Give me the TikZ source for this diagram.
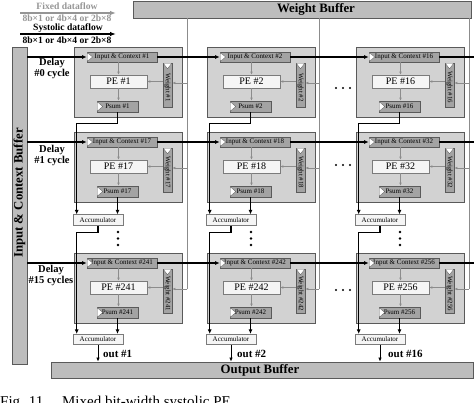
\documentclass[tikz,border=0pt]{standalone}
\usepackage{fontspec}
\setmainfont{Liberation Serif}
\usetikzlibrary{arrows.meta,calc}
\definecolor{blkfill}{HTML}{D2D2D2}
\definecolor{buffill}{HTML}{BDBDBD}
\definecolor{darkfill}{HTML}{A3A3A3}
\definecolor{pefill}{HTML}{F5F5F5}
\definecolor{edge}{HTML}{5A5A5A}
\definecolor{garrow}{HTML}{8C8C8C}
\definecolor{legendgray}{HTML}{959595}
\begin{document}
\begin{tikzpicture}[x=1pt,y=-1pt,
  buffer/.style={draw=edge, fill=buffill, line width=0.8pt, inner sep=0pt},
  block/.style={draw=edge, fill=blkfill, line width=0.8pt, inner sep=0pt, minimum width=108pt, minimum height=70pt},
  reg/.style={draw=edge, fill=darkfill, line width=0.6pt, inner sep=0pt, font=\fontsize{7}{7}\selectfont},
  pebox/.style={draw=edge!80, fill=pefill, line width=0.6pt, inner sep=0pt, minimum width=57pt, minimum height=13pt, font=\fontsize{10}{10}\selectfont},
  accbox/.style={draw=edge!80, fill=pefill, line width=0.6pt, inner sep=0pt, minimum width=50pt, minimum height=10.5pt, font=\fontsize{7}{7}\selectfont},
  garr/.style={draw=garrow, line width=0.6pt, -{Latex[length=3pt,width=2.6pt]}},
  gline/.style={draw=garrow, line width=0.8pt},
  barr/.style={draw=black, line width=1.1pt, -{Latex[length=4.5pt,width=4pt]}},
  oarr/.style={draw=black, line width=0.8pt, -{Latex[length=4pt,width=3.5pt]}},
  bline/.style={draw=black, line width=1.1pt},
  lbl/.style={font=\bfseries\fontsize{10.5}{11}\selectfont, align=center, inner sep=0pt},
  leg/.style={font=\bfseries\fontsize{9.6}{10}\selectfont, inner sep=0pt},
  big/.style={font=\bfseries\fontsize{12.8}{13}\selectfont, inner sep=0pt},
  tri/.style={fill=white, draw=edge, line width=0.3pt}
]
\useasboundingbox (0,0) rectangle (474,403);

% legend
\node[leg, text=legendgray] (lg1) at (67,6) {Fixed dataflow};
\node[leg, text=legendgray] (lg2) at (67,18.5) {8b×1 or 4b×4 or 2b×8};
\node[leg] (lg3) at (68,28.5) {Systolic dataflow};
\node[leg] (lg4) at (67,40.5) {8b×1 or 4b×4 or 2b×8};
\coordinate (la1s) at (20,13); \coordinate (la1e) at (116,13);
\coordinate (la2s) at (20,34); \coordinate (la2e) at (116,34);
\draw[draw=legendgray, line width=1.1pt, -{Latex[length=6pt,width=4.5pt]}] (la1s) -- (la1e);
\draw[draw=black, line width=1.3pt, -{Latex[length=6pt,width=4.5pt]}] (la2s) -- (la2e);

% buffers
\node[buffer, minimum width=338pt, minimum height=17pt] (wbuf) at (302,9.5) {};
\node[big] at (316,9.5) {Weight Buffer};
\node[buffer, minimum width=15pt, minimum height=317pt] (ibuf) at (19.5,205.5) {};
\node[big, rotate=90] at (19.5,193) {Input \& Context Buffer};
\node[buffer, minimum width=422pt, minimum height=16pt] (obuf) at (262,370) {};
\node[big] at (260,370) {Output Buffer};

% delay labels
\node[lbl] (d1) at (52,68.5) {Delay\\\#0 cycle};
\node[lbl] (d2) at (52,155) {Delay\\\#1 cycle};
\node[lbl] (d3) at (51,275) {Delay\\\#15 cycles};

% weight lines
\foreach \c/\wx in {1/187, 2/319, 3/469} {
  \coordinate (wtop\c) at (\wx,18);
  \coordinate (wbot\c) at (\wx,289);
  \draw[gline] (wtop\c) -- (wbot\c);
}

% PE blocks
\foreach \c/\dx/\wx/\cn in {1/0/187/1, 2/133/319/2, 3/282/469/16} {
  \foreach \r/\dy/\ri in {1/0/0, 2/85/1, 3/206/15} {
    \pgfmathtruncatemacro\num{\cn+16*\ri}
    \node[block] (blk\c\r) at (128+\dx,82+\dy) {};
    \node[reg, minimum width=70pt, minimum height=10pt] (ic\c\r) at (122+\dx,57+\dy) {Input \& Context \#\num};
    \draw[tri] ($(ic\c\r.north west)+(0.5,1)$) -- ($(ic\c\r.south west)+(0.5,-1)$) -- ($(ic\c\r.west)+(6,0)$) -- cycle;
    \node[pebox] (pe\c\r) at (118.5+\dx,81.5+\dy) {PE \#\num};
    \node[reg, minimum width=9pt, minimum height=44pt] (w\c\r) at (167.5+\dx,85+\dy) {};
    \node[rotate=-90, inner sep=0pt, font=\fontsize{6.8}{7}\selectfont] (wt\c\r) at (167.5+\dx,87.5+\dy) {Weight \#\num};
    \draw[tri] ($(w\c\r.north west)+(0.5,0.5)$) -- ($(w\c\r.north east)+(-0.5,0.5)$) -- ($(w\c\r.north)+(0,6)$) -- cycle;
    \node[reg, minimum width=41pt, minimum height=11pt] (ps\c\r) at (117.5+\dx,106.5+\dy) {Psum \#\num};
    \draw[tri] ($(ps\c\r.north west)+(0.5,1)$) -- ($(ps\c\r.south west)+(0.5,-1)$) -- ($(ps\c\r.west)+(6,0)$) -- cycle;
    \draw[garr] (pe\c\r.north |- ic\c\r.south) -- (pe\c\r.north);
    \draw[garr] (pe\c\r.south) -- (pe\c\r.south |- ps\c\r.north);
    \draw[garr] (w\c\r.west |- pe\c\r.east) -- (pe\c\r.east);
    \coordinate (wl\c\r) at (\wx,83+\dy);
    \draw[garr] (wl\c\r) -- (w\c\r.east |- wl\c\r);
  }
  \node[accbox] (acc\c2) at (98+\dx,220) {Accumulator};
  \node[accbox] (acc\c3) at (98+\dx,339.5) {Accumulator};
  \draw[barr] (ps\c1.south) -- ++(0,11) -| ($(acc\c2.north west)+(4,0)$);
  \draw[barr] (ps\c2.south) -- (ps\c2.south |- acc\c2.north);
  \draw[barr] (acc\c2.south) -- ++(0,7) -| ($(acc\c3.north west)+(4,0)$);
  \draw[barr] (ps\c3.south) -- (ps\c3.south |- acc\c3.north);
  \draw[oarr] (acc\c3.south) -- (acc\c3.south |- obuf.north);
  \foreach \yy in {232,238.5,245} \fill (118+\dx,\yy) circle (1.3);
}
\node[font=\bfseries\fontsize{11}{11}\selectfont, anchor=west, inner sep=0pt] (o1) at (103,354) {out \#1};
\node[font=\bfseries\fontsize{11}{11}\selectfont, anchor=west, inner sep=0pt] (o2) at (237,354) {out \#2};
\node[font=\bfseries\fontsize{11}{11}\selectfont, anchor=west, inner sep=0pt] (o3) at (388,354) {out \#16};

% systolic input lines
\foreach \r/\dy/\hy in {1/0/88, 2/85/165, 3/206/290} {
  \draw[barr] (ibuf.east |- ic1\r.west) -- (ic1\r.west);
  \draw[barr] (ic1\r.east) -- (ic2\r.west);
  \draw[barr] (ic2\r.east) -- (ic3\r.west);
  \coordinate (rend\r) at (474,57+\dy);
  \draw[bline] (ic3\r.east) -- (rend\r);
  \foreach \xx in {336,343,350} \fill (\xx,\hy) circle (1.2);
}

% caption (cut off at the bottom)
\node[anchor=base west, inner sep=0pt, font=\fontsize{15}{15}\selectfont] (cap) at (0,406) {Fig. 11.\quad Mixed bit-width systolic PE};
\end{tikzpicture}
\end{document}
